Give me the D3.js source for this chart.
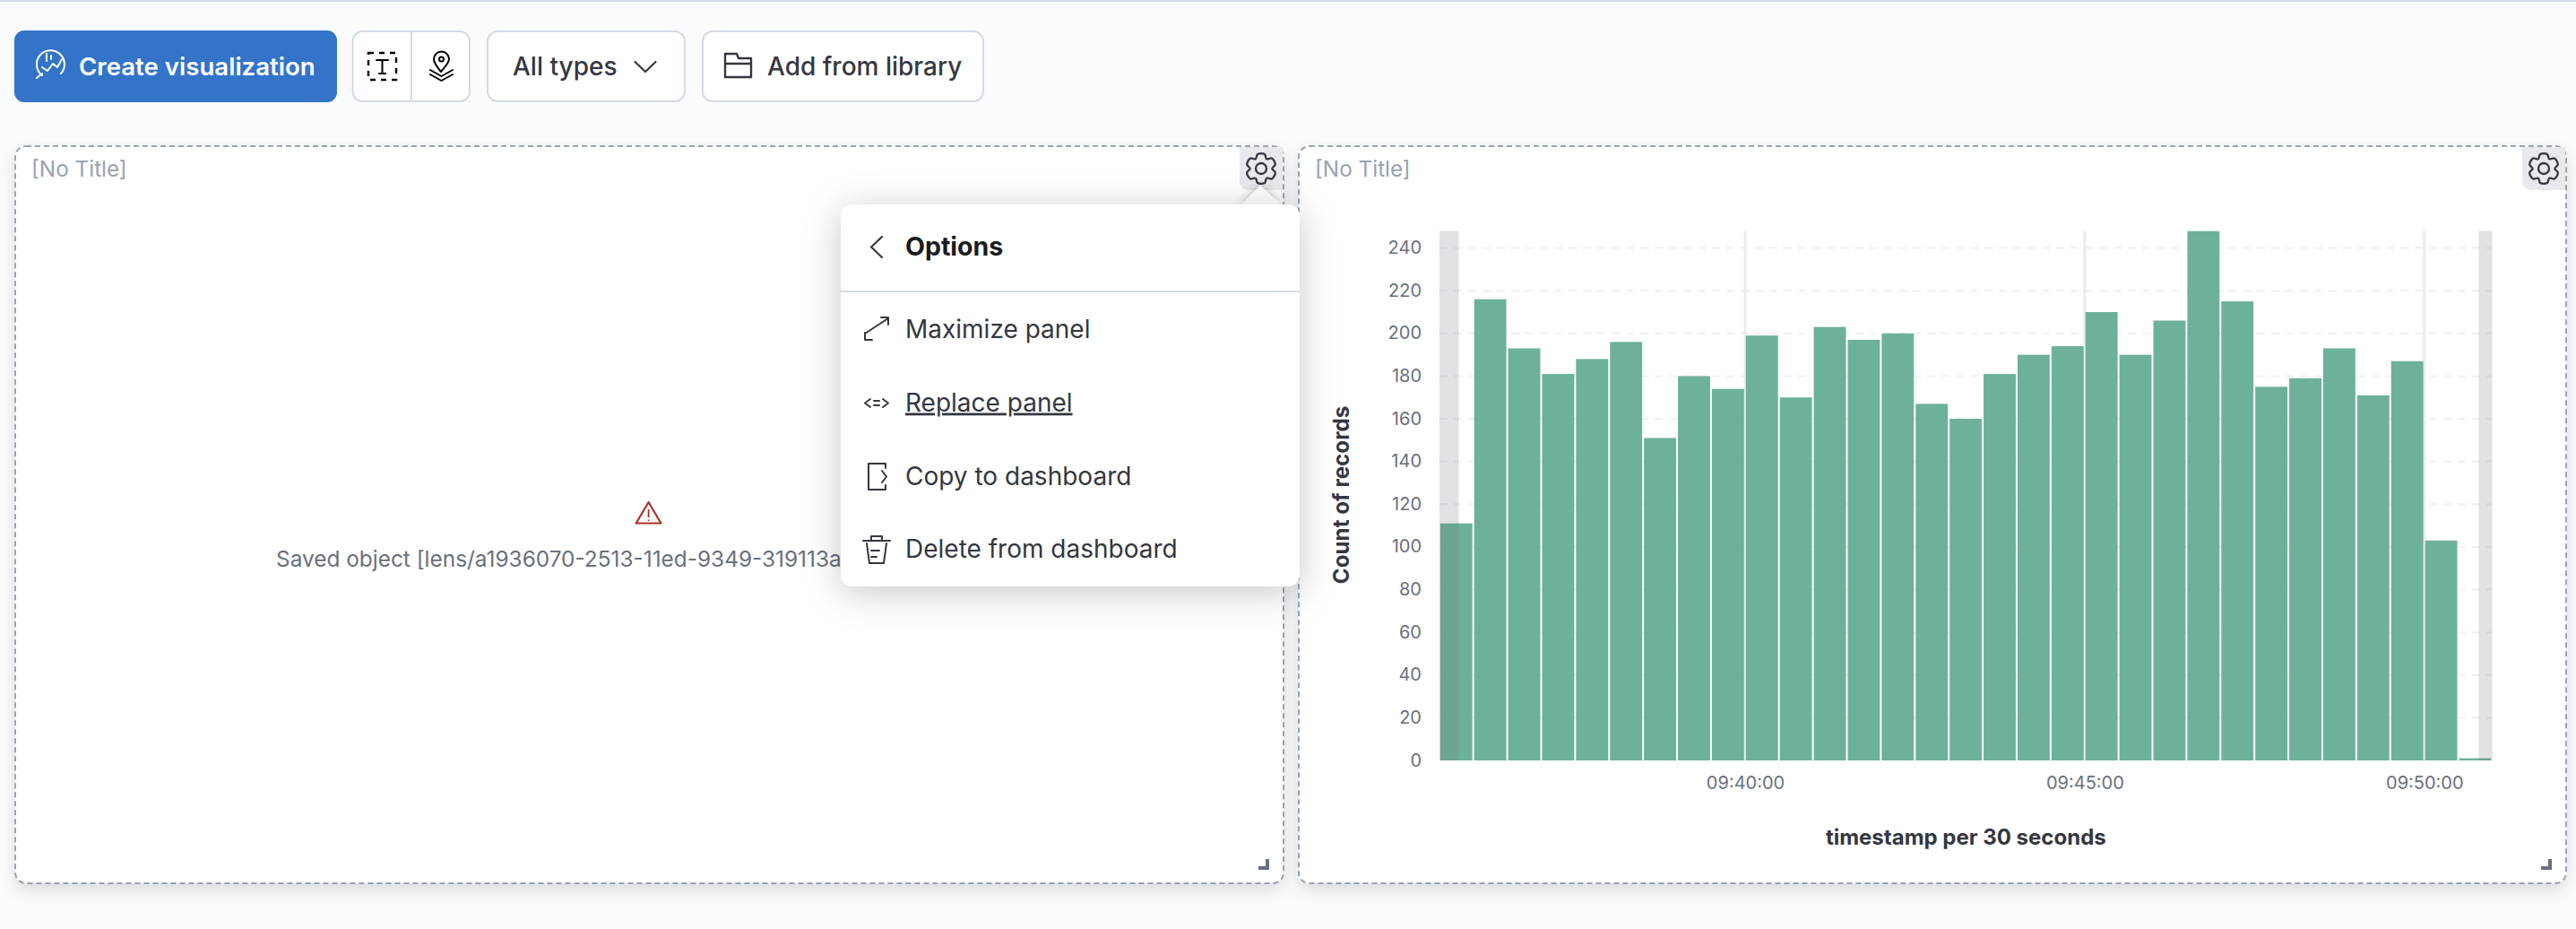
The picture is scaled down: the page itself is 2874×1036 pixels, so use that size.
<!DOCTYPE html>
<html>
<head>
<meta charset="utf-8">
<script src="https://cdn.jsdelivr.net/npm/d3@7"></script>
<style>
  html, body { margin: 0; padding: 0; background: #fafbfd; }
  svg { display: block; font-family: Inter, "Noto Sans", sans-serif; }
</style>
</head>
<body>
<div id="my_dataviz"></div>
<script>
// Data
const binStarts = [
  "09:35:30", "09:36:00", "09:36:30", "09:37:00", "09:37:30", "09:38:00", "09:38:30", "09:39:00",
  "09:39:30", "09:40:00", "09:40:30", "09:41:00", "09:41:30", "09:42:00", "09:42:30", "09:43:00",
  "09:43:30", "09:44:00", "09:44:30", "09:45:00", "09:45:30", "09:46:00", "09:46:30", "09:47:00",
  "09:47:30", "09:48:00", "09:48:30", "09:49:00", "09:49:30", "09:50:00", "09:50:30"
];
const counts = [
  111, 216, 193, 181, 188, 196, 151, 180, 174, 199, 170, 203, 197, 200, 167, 160,
  181, 190, 194, 210, 190, 206, 248, 215, 175, 179, 193, 171, 187, 103, 1
];
const yTicks = [0, 20, 40, 60, 80, 100, 120, 140, 160, 180, 200, 220, 240];
const xTicks = ["09:40:00", "09:45:00", "09:50:00"];
const shadedRanges = [["09:35:30", "09:35:47"], ["09:50:48", "09:51:00"]];
const menuItems = ["Maximize panel", "Replace panel", "Copy to dashboard", "Delete from dashboard"];

const W = 2874, H = 1036;
const plot = { left: 1606, right: 2780.6, top: 257.5, bottom: 848 };
const ink = "#343741", subdued = "#69707d", border = "#d3dae6", dashed = "#98a2b3";

const svg = d3.select("#my_dataviz").append("svg").attr("width", W).attr("height", H);
const defs = svg.append("defs");

function shadow(id, dy, std, op) {
  defs.append("filter").attr("id", id)
    .attr("x", "-20%").attr("y", "-20%").attr("width", "140%").attr("height", "140%")
    .append("feDropShadow").attr("dx", 0).attr("dy", dy).attr("stdDeviation", std)
    .attr("flood-color", "#000").attr("flood-opacity", op);
}
shadow("panelShadow", 7, 9, 0.13);
shadow("popShadow", 6, 20, 0.22);
shadow("arrowShadow", 0, 5, 0.28);

defs.append("clipPath").attr("id", "plotClip").append("rect")
  .attr("x", plot.left).attr("y", plot.top)
  .attr("width", plot.right - plot.left).attr("height", plot.bottom - plot.top);

svg.append("rect").attr("width", W).attr("height", H).attr("fill", "#fafbfd");
svg.append("rect").attr("width", W).attr("height", 2).attr("fill", border);

// Small helpers for text and outlined icons
function label(g, x, y, str, size, weight, fill, anchor) {
  return g.append("text").attr("x", x).attr("y", y).text(str)
    .attr("font-size", size).attr("font-weight", weight || 400)
    .attr("fill", fill || ink).attr("text-anchor", anchor || "start");
}
function icon(g, d, color, sw) {
  return g.append("path").attr("d", d).attr("fill", "none")
    .attr("stroke", color || ink).attr("stroke-width", sw || 2.4)
    .attr("stroke-linejoin", "round").attr("stroke-linecap", "round");
}
function gear(g, cx, cy) {
  // six teeth, outer radius alternates with the notches
  const pts = [];
  for (let i = 0; i < 6; i++) {
    const a = i * Math.PI / 3;
    [[-0.24, 16.5], [0.24, 16.5], [0.52, 12.3]].forEach(([o, r]) => pts.push([a + o, r]));
  }
  const d = d3.lineRadial().curve(d3.curveCatmullRomClosed.alpha(0.5))(pts);
  g.append("path").attr("transform", `translate(${cx},${cy})`).attr("d", d)
    .attr("fill", "none").attr("stroke", ink).attr("stroke-width", 2.3).attr("stroke-linejoin", "round");
  g.append("circle").attr("cx", cx).attr("cy", cy).attr("r", 6)
    .attr("fill", "none").attr("stroke", ink).attr("stroke-width", 2.3);
}

// Toolbar
const bar = svg.append("g");
bar.append("rect").attr("x", 16).attr("y", 34).attr("width", 360).attr("height", 80).attr("rx", 11).attr("fill", "#3374c9");
label(bar, 88, 84, "Create visualization", 27.6, 600, "#fff");
icon(bar, "M47 84A15.5 15.5 0 1 1 68 82M41 87L47 82", "#fff", 2);
icon(bar, "M47 75L53 79L59 71L64 75L69 66M52 68V60M57 66V62", "#fff", 2);

[[392.5, 132.5], [543, 222], [783, 315]].forEach(([x, w]) => {
  bar.append("rect").attr("x", x + 1).attr("y", 35).attr("width", w - 2).attr("height", 78).attr("rx", 11)
    .attr("fill", "#fff").attr("stroke", border).attr("stroke-width", 2);
});
bar.append("line").attr("x1", 459).attr("x2", 459).attr("y1", 35).attr("y2", 113).attr("stroke", border).attr("stroke-width", 2);
bar.append("rect").attr("x", 411).attr("y", 59).attr("width", 31).attr("height", 30).attr("fill", "none")
  .attr("stroke", "#000").attr("stroke-width", 2.4).attr("stroke-dasharray", "6 6");
icon(bar, "M420 67H433M426.5 67V82M423 82H430", "#000", 2);
icon(bar, "M492 80C487 74 484 70 484 66A8.5 8.5 0 0 1 501 66C501 70 497 74 492 80Z", "#000", 2);
bar.append("circle").attr("cx", 492.5).attr("cy", 66).attr("r", 2.5).attr("fill", "none").attr("stroke", "#000").attr("stroke-width", 2);
icon(bar, "M480 78L492.5 85L505 78M480 83L492.5 90L505 83", "#000", 2);
label(bar, 572, 84, "All types", 28, 500);
icon(bar, "M708.5 69L720 80L731.5 69", ink, 2.2);
icon(bar, "M809 86V60H822L824 65H838V86ZM809 71H838", ink, 2.4);
label(bar, 856, 84, "Add from library", 28, 500);

// Dashboard panels
const panelBoxes = [[17, 1415], [1449, 1414]];
panelBoxes.forEach(([x, w]) => {
  svg.append("rect").attr("x", x).attr("y", 163).attr("width", w).attr("height", 822).attr("rx", 12)
    .attr("fill", "#fff").attr("filter", "url(#panelShadow)");
  svg.append("rect").attr("x", x).attr("y", 163).attr("width", w).attr("height", 822).attr("rx", 12)
    .attr("fill", "none").attr("stroke", dashed).attr("stroke-width", 2).attr("stroke-dasharray", "6 4");
  label(svg, x + 18, 197, "[No Title]", 24.3, 400, dashed);
  svg.append("path")
    .attr("d", `M${x + w - 49} 164H${x + w - 1}V212H${x + w - 39}A10 10 0 0 1 ${x + w - 49} 202Z`)
    .attr("fill", "#e8e9ec");
  gear(svg, x + w - 25, 188);
  // resize handle
  svg.append("path")
    .attr("d", `M${x + w - 28} 970V966H${x + w - 20}V958H${x + w - 16}V970Z`).attr("fill", subdued);
});

// Left panel error message
svg.append("path").attr("d", "M723.6 560L737.5 583.5H709.7Z").attr("fill", "none")
  .attr("stroke", "#a93226").attr("stroke-width", 2.2).attr("stroke-linejoin", "round");
svg.append("path").attr("d", "M723.6 568V577M723.6 579.5V581").attr("stroke", "#a93226").attr("stroke-width", 1.8);
label(svg, 308, 632, "Saved object [lens/a1936070-2513-11ed-9349-319113a", 24.4, 400, subdued);

// Chart scales
const parseT = d3.utcParse("%H:%M:%S");
const fmtT = d3.utcFormat("%H:%M:%S");
const x = d3.scaleUtc().domain([parseT("09:35:30"), parseT("09:51:00")]).range([plot.left, plot.right]);
const y = d3.scaleLinear().domain([0, 248]).range([plot.bottom, plot.top]);

const chart = svg.append("g");

// Gridlines
chart.append("g").selectAll("line").data(yTicks.filter(d => d > 0)).join("line")
  .attr("x1", plot.left).attr("x2", plot.right).attr("y1", d => y(d)).attr("y2", d => y(d))
  .attr("stroke", "#eef0f3").attr("stroke-width", 2).attr("stroke-dasharray", "9 7");
chart.append("g").selectAll("line").data(xTicks).join("line")
  .attr("x1", d => x(parseT(d))).attr("x2", d => x(parseT(d))).attr("y1", plot.top).attr("y2", plot.bottom)
  .attr("stroke", "#ebebf1").attr("stroke-width", 3);

// Bars
const binWidth = x(parseT("09:36:00")) - x(parseT("09:35:30"));
chart.append("g").attr("clip-path", "url(#plotClip)")
  .selectAll("rect").data(binStarts.map((t, i) => ({ t: parseT(t), v: counts[i] }))).join("rect")
  .attr("x", d => x(d.t) + 0.8)
  .attr("y", d => y(d.v))
  .attr("width", binWidth - 2)
  .attr("height", d => plot.bottom - y(d.v))
  .attr("fill", "#6eb19a");

// Out-of-range shading on both ends
chart.append("g").selectAll("rect").data(shadedRanges).join("rect")
  .attr("x", d => x(parseT(d[0]))).attr("width", d => x(parseT(d[1])) - x(parseT(d[0])))
  .attr("y", plot.top).attr("height", plot.bottom - plot.top)
  .attr("fill", "#69707d").attr("fill-opacity", 0.2);

// Axes
const yAxis = chart.append("g").attr("transform", `translate(${plot.left - 20},0)`)
  .call(d3.axisLeft(y).tickValues(yTicks).tickSize(0).tickPadding(0));
const xAxis = chart.append("g").attr("transform", `translate(0,${plot.bottom})`)
  .call(d3.axisBottom(x).tickValues(xTicks.map(parseT)).tickFormat(fmtT).tickSize(0).tickPadding(18));
[yAxis, xAxis].forEach(a => {
  a.select(".domain").remove();
  a.selectAll("text").attr("font-family", "Inter").attr("font-size", 20).attr("fill", subdued);
});
yAxis.selectAll("text").attr("dy", "0.3em");

label(chart, 0, 0, "Count of records", 24.2, 700, ink, "middle")
  .attr("transform", "translate(1505,552) rotate(-90)");
label(chart, (plot.left + plot.right) / 2, 942, "timestamp per 30 seconds", 24, 700, ink, "middle");

// Options popover
const pop = svg.append("g");
pop.append("path").attr("d", "M1384 229L1406 207L1430 229Z").attr("fill", "#fff").attr("filter", "url(#arrowShadow)");
pop.append("rect").attr("x", 938).attr("y", 228).attr("width", 512).attr("height", 426).attr("rx", 13)
  .attr("fill", "#fff").attr("filter", "url(#popShadow)");
icon(pop, "M984 264L972 275.5L984 287", ink, 2.2);
label(pop, 1010, 285, "Options", 28.5, 700, "#1a1c21");
pop.append("line").attr("x1", 938).attr("x2", 1450).attr("y1", 325).attr("y2", 325).attr("stroke", border).attr("stroke-width", 2);

const itemBase = [377, 458.5, 540.5, 622];
menuItems.forEach((t, i) => {
  const tx = label(pop, 1010, itemBase[i], t, 28, 400);
  if (i === 1) tx.attr("text-decoration", "underline");
});
icon(pop, "M965 372L991 355M983 354H991V362M965 371V379H973", ink, 2);
icon(pop, "M971 445L965 449.5L971 454M985 445L991 449.5L985 454M975 447H981M975 452H981", ink, 2);
icon(pop, "M988 517H969V546H988M988 517V522M988 546V541M984 525L989 531.5L984 538", ink, 2);
icon(pop, "M963 603H993M972 603V598H984V603M967 606L970 628H986L989 606M972 614H981M972 621H978", ink, 2);
</script>
</body>
</html>
